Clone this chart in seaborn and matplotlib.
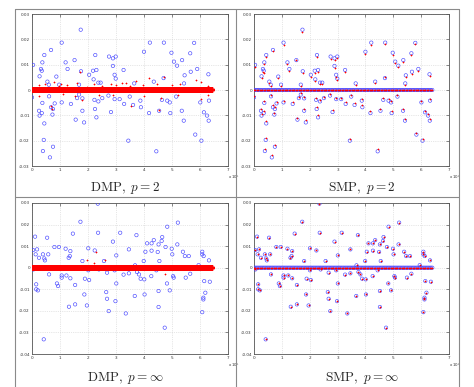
import numpy as np
import matplotlib
matplotlib.use("Agg")
import matplotlib.pyplot as plt
import seaborn as sns
from matplotlib.lines import Line2D

# coefficient index in units of 1e4, values of the sparse signal (blue circles)
top_x = [0.04, 0.27, 0.32, 0.35, 0.37, 0.44, 0.55, 0.60, 0.68, 0.87, 0.97, 1.06, 1.20, 1.27, 1.52, 1.68,
         1.74, 1.75, 2.04, 2.18, 2.20, 2.26, 2.30, 2.37, 2.45, 2.75, 2.89, 2.89, 2.95, 2.99, 2.99, 3.27,
         3.65, 4.00, 4.21, 4.35, 4.70, 4.71, 4.98, 5.07, 5.18, 5.36, 5.43, 5.45, 5.65, 5.67, 5.79, 5.90, 6.30,
         0.00, 0.25, 0.27, 0.35, 0.37, 0.39, 0.42, 0.44, 0.61, 0.64, 0.68, 0.73, 0.75, 0.75, 0.81, 1.06,
         1.39, 1.56, 1.61, 1.68, 1.80, 1.80, 1.86, 2.23, 2.25, 2.30, 2.37, 2.51, 2.73, 2.82, 2.95, 3.13,
         3.29, 3.44, 3.49, 3.61, 3.87, 3.89, 4.18, 4.44, 4.54, 4.64, 4.83, 4.92, 4.94, 5.15, 5.35, 5.42,
         5.83, 6.01, 6.05, 6.14, 6.25, 6.31, 6.32]
top_y = [0.0099, 0.0054, 0.0083, 0.0076, 0.0109, 0.0138, 0.0033, 0.0021, 0.0158, 0.0053, 0.0021, 0.0187,
         0.0109, 0.0083, 0.0118, 0.0021, 0.0238, 0.0074, 0.0060, 0.0076, 0.0042, 0.0138, 0.0079, 0.0029,
         0.0029, 0.0132, 0.0125, 0.0095, 0.0060, 0.0132, 0.0045, 0.0079, 0.0026, 0.0151, 0.0187, 0.0033,
         0.0047, 0.0187, 0.0147, 0.0112, 0.0096, 0.0118, 0.0026, 0.0058, 0.0145, 0.0072, 0.0186, 0.0083,
         0.0062,
         -0.0029, -0.0082, -0.0101, -0.0091, -0.0051, -0.0241, -0.0197, -0.0132, -0.0025, -0.0266, -0.0068,
         -0.0097, -0.0224, -0.0075, -0.0053, -0.0049, -0.0055, -0.0117, -0.0032, -0.0018, -0.0033, -0.0082,
         -0.0128, -0.0039, -0.0075, -0.0108, -0.0045, -0.0032, -0.0022, -0.0087, -0.0036, -0.0036, -0.0055,
         -0.0200, -0.0026, -0.0059, -0.0042, -0.0068, -0.0091, -0.0242, -0.0082, -0.0039, -0.0042, -0.0049,
         -0.0091, -0.0026, -0.0082, -0.0121, -0.0176, -0.0049, -0.0200, -0.0088, -0.0101, -0.0121, -0.0042]
# SMP, p = 2 reconstruction (red plus signs)
smp2_y = [0.0090, 0.0048, 0.0072, 0.0069, 0.0101, 0.0129, 0.0027, 0.0015, 0.0152, 0.0046, 0.0016, 0.0178,
          0.0101, 0.0076, 0.0119, 0.0016, 0.0230, 0.0066, 0.0053, 0.0069, 0.0036, 0.0130, 0.0072, 0.0024,
          0.0023, 0.0124, 0.0117, 0.0087, 0.0052, 0.0125, 0.0038, 0.0071, 0.0021, 0.0143, 0.0179, 0.0027,
          0.0050, 0.0181, 0.0139, 0.0105, 0.0089, 0.0110, 0.0021, 0.0051, 0.0137, 0.0065, 0.0180, 0.0075,
          0.0055,
          -0.0022, -0.0075, -0.0093, -0.0084, -0.0044, -0.0232, -0.0189, -0.0124, -0.0019, -0.0258, -0.0061,
          -0.0090, -0.0216, -0.0068, -0.0046, -0.0042, -0.0048, -0.0109, -0.0026, -0.0013, -0.0027, -0.0075,
          -0.0120, -0.0033, -0.0068, -0.0100, -0.0038, -0.0026, -0.0017, -0.0080, -0.0030, -0.0030, -0.0048,
          -0.0192, -0.0020, -0.0052, -0.0035, -0.0061, -0.0083, -0.0234, -0.0075, -0.0033, -0.0036, -0.0042,
          -0.0084, -0.0020, -0.0075, -0.0113, -0.0168, -0.0042, -0.0192, -0.0081, -0.0094, -0.0113, -0.0036]
# DMP, p = 2 reconstruction values that leave the zero band
dmp2_x = [0.25, 0.45, 0.78, 0.95, 1.05, 1.25, 1.62, 1.72, 1.98, 2.20, 2.50, 2.82, 3.00, 3.20, 3.35, 3.50,
          3.73, 3.95, 4.19, 4.45, 4.70, 5.00, 5.30, 5.84, 6.02, 6.30,
          0.25, 0.68, 0.72, 1.10, 1.55, 1.80, 2.40, 2.90, 3.55, 4.00, 4.54, 4.60, 5.20, 6.02, 6.30]
dmp2_y = [0.0020, 0.0025, 0.0033, 0.0015, 0.0022, 0.0018, 0.0027, 0.0072, 0.0012, 0.0024, 0.0017, 0.0025,
          0.0020, 0.0028, 0.0027, 0.0015, 0.0035, 0.0020, 0.0047, 0.0025, 0.0050, 0.0018, 0.0023, 0.0039,
          0.0030, 0.0015,
          -0.0025, -0.0065, -0.0075, -0.0015, -0.0025, -0.0038, -0.0020, -0.0018, -0.0062, -0.0022, -0.0078,
          -0.0030, -0.0020, -0.0035, -0.0020]

bot_x = [0.04, 0.11, 0.18, 0.13, 0.25, 0.39, 0.44, 0.46, 0.54, 0.58, 0.80, 0.96, 1.20, 1.31, 1.37, 1.35,
         1.46, 1.73, 1.80, 2.01, 2.24, 2.35, 2.36, 2.57, 2.89, 3.01, 3.15, 3.46, 3.73, 3.68, 3.99, 4.05,
         4.11, 4.27, 4.27, 4.35, 4.49, 4.52, 4.55, 4.63, 4.65, 4.83, 4.77, 4.99, 5.01, 5.19, 5.21, 5.39,
         5.46, 5.60, 6.08, 6.08, 6.13, 6.32, 5.95,
         0.05, 0.15, 0.15, 0.21, 0.61, 0.42, 0.89, 0.93, 1.06, 1.06, 1.23, 1.32, 1.37, 1.54, 1.54, 1.87,
         1.89, 1.96, 2.04, 2.01, 2.39, 2.65, 2.68, 2.74, 2.68, 2.95, 3.01, 2.98, 3.27, 3.35, 3.46, 3.67,
         3.75, 3.82, 3.88, 4.01, 4.02, 4.26, 4.44, 4.52, 4.52, 4.74, 4.82, 4.92, 5.04, 5.06, 5.49, 5.65,
         6.12, 6.12, 6.08, 6.19, 6.15, 6.35]
bot_y = [0.0082, 0.0144, 0.0085, 0.0062, 0.0046, 0.0062, 0.0043, 0.0034, 0.0139, 0.0062, 0.0096, 0.0096,
         0.0088, 0.0046, 0.0077, 0.0054, 0.0158, 0.0213, 0.0031, 0.0090, 0.0080, 0.0297, 0.0162, 0.0031,
         0.0121, 0.0057, 0.0162, 0.0085, 0.0151, 0.0011, 0.0031, 0.0074, 0.0113, 0.0113, 0.0079, 0.0128,
         0.0073, 0.0108, 0.0031, 0.0124, 0.0142, 0.0190, 0.0096, 0.0088, 0.0062, 0.0108, 0.0209, 0.0074,
         0.0054, 0.0054, 0.0074, 0.0062, 0.0054, 0.0034, 0.0012,
         -0.0008, -0.0077, -0.0100, -0.0105, -0.0031, -0.0332, -0.0073, -0.0085, -0.0036, -0.0046, -0.0036,
         -0.0181, -0.0049, -0.0170, -0.0080, -0.0124, -0.0051, -0.0175, -0.0057, -0.0012, -0.0008, -0.0113,
         -0.0144, -0.0201, -0.0023, -0.0012, -0.0073, -0.0155, -0.0032, -0.0212, -0.0026, -0.0131, -0.0020,
         -0.0031, -0.0051, -0.0054, -0.0124, -0.0039, -0.0012, -0.0108, -0.0182, -0.0278, -0.0073, -0.0105,
         -0.0039, -0.0046, -0.0046, -0.0028, -0.0139, -0.0147, -0.0206, -0.0116, -0.0062, -0.0065]
# DMP, p = inf reconstruction values that leave the zero band
dmpinf_x = [1.96, 2.20, 2.30, 2.62, 4.76]
dmpinf_y = [0.0036, 0.0020, 0.0075, 0.0034, -0.0028]

# index grid of the zero coefficients
zero_x = np.arange(0.0, 6.45, 0.05)
band_x = np.arange(0.0, 6.45, 0.01)

captions = [r"$\mathrm{DMP},\ p = 2$", r"$\mathrm{SMP},\ p = 2$",
            r"$\mathrm{DMP},\ p = \infty$", r"$\mathrm{SMP},\ p = \infty$"]

sns.set_style("whitegrid")
plt.rcParams["mathtext.fontset"] = "cm"
plt.rcParams["font.family"] = ["DejaVu Sans"]

W, H = 474, 387
fig = plt.figure(figsize=(W / 100, H / 100), dpi=100)

# pixel boxes (left, top, right, bottom) of the four panels
boxes = [(32, 14, 228, 166), (254, 14, 449, 166), (32, 203, 228, 354), (254, 203, 449, 354)]
cap_pos = [(125, 188), (362, 188), (125, 378), (362, 378)]

BLUE = "#4848ff"
RED = "#ff0000"


def make_ax(box):
    l, t, r, b = box
    return fig.add_axes([l / W, 1 - b / H, (r - l) / W, (b - t) / H])


def style(ax, ylo, yticks):
    ax.set_xlim(0, 7)
    ax.set_ylim(ylo, 0.03)
    ax.set_xticks(range(8))
    ax.set_yticks(yticks)
    ax.set_yticklabels(["0" if abs(v) < 1e-9 else f"{v:.2f}" for v in yticks])
    ax.tick_params(direction="in", length=2, width=0.4, labelsize=3, pad=1.5,
                   colors="#333333", top=True, right=True)
    ax.grid(True, color="#cfcfcf", linestyle=":", linewidth=0.5)
    for s in ax.spines.values():
        s.set_color("#555555")
        s.set_linewidth(0.6)
    ax.set_xlabel("")
    ax.set_ylabel("")
    ax.text(1.0, -0.075, r"x 10$^4$", transform=ax.transAxes, fontsize=2.8,
            ha="left", va="center", color="#333333")


def circles(ax, x, y):
    sns.scatterplot(x=x, y=y, marker="o", s=6, facecolors="none", edgecolor=BLUE,
                    linewidth=0.45, ax=ax, zorder=3)


def pluses(ax, x, y, s=4, lw=0.5, z=4):
    sns.scatterplot(x=x, y=y, marker="+", s=s, color=RED, linewidth=lw, ax=ax, zorder=z)


zeros = np.zeros(len(zero_x))
band = np.zeros(len(band_x))
top_ticks = [0.03, 0.02, 0.01, 0.0, -0.01, -0.02, -0.03]
bot_ticks = [0.03, 0.02, 0.01, 0.0, -0.01, -0.02, -0.03, -0.04]

# DMP, p = 2
ax = make_ax(boxes[0])
circles(ax, top_x, top_y)
circles(ax, zero_x, zeros)
pluses(ax, band_x, band, s=16, lw=1.6, z=5)
pluses(ax, dmp2_x, dmp2_y)
style(ax, -0.03, top_ticks)

# SMP, p = 2
ax = make_ax(boxes[1])
circles(ax, top_x, top_y)
circles(ax, zero_x, zeros)
pluses(ax, top_x, smp2_y)
pluses(ax, zero_x, zeros)
style(ax, -0.03, top_ticks)

# DMP, p = inf
ax = make_ax(boxes[2])
circles(ax, bot_x, bot_y)
circles(ax, zero_x, zeros)
pluses(ax, band_x, band, s=16, lw=1.6, z=5)
pluses(ax, dmpinf_x, dmpinf_y)
style(ax, -0.04, bot_ticks)

# SMP, p = inf
ax = make_ax(boxes[3])
circles(ax, bot_x, bot_y)
circles(ax, zero_x, zeros)
pluses(ax, bot_x, bot_y)
pluses(ax, zero_x, zeros)
style(ax, -0.04, bot_ticks)

for (cx, cy), cap in zip(cap_pos, captions):
    fig.text(cx / W, 1 - cy / H, cap, ha="center", va="center", fontsize=9.5)

# table rules around the panels
rules = [((15, 9), (459, 9)), ((15, 197), (459, 197)),
         ((15, 9), (15, 387)), ((236, 9), (236, 387)), ((459, 9), (459, 387))]
for (x0, y0), (x1, y1) in rules:
    fig.add_artist(Line2D([x0 / W, x1 / W], [1 - y0 / H, 1 - y1 / H], color="#8a8a8a", linewidth=0.8))

fig.savefig("out.png", dpi=100)
